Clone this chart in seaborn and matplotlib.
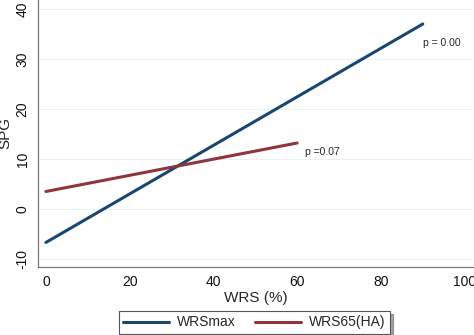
import matplotlib
matplotlib.use("Agg")
import matplotlib.pyplot as plt
import seaborn as sns
import pandas as pd

# Data
wrs_max_x = [0, 90]
wrs_max_y = [-6.7, 37.0]
wrs65_x = [0, 60]
wrs65_y = [3.5, 13.2]
series_names = ["WRSmax", "WRS65(HA)"]
x_ticks = [0, 20, 40, 60, 80, 100]
y_ticks = [-10, 0, 10, 20, 30, 40]
p_labels = ["p = 0.00", "p =0.07"]

df = pd.concat([
    pd.DataFrame({"WRS": wrs_max_x, "SPG": wrs_max_y, "series": series_names[0]}),
    pd.DataFrame({"WRS": wrs65_x, "SPG": wrs65_y, "series": series_names[1]}),
])

sns.set_style("white")
plt.rcParams['font.family'] = ['Liberation Sans', 'DejaVu Sans']

fig = plt.figure(figsize=(4.74, 3.35), dpi=100)
ax = fig.add_axes([0.080, 0.203, 0.918, 0.797])

palette = {series_names[0]: "#1a476f", series_names[1]: "#90353b"}
sns.lineplot(data=df, x="WRS", y="SPG", hue="series", palette=palette,
             linewidth=2.2, ax=ax, legend=True)

ax.set_xlim(-1.9, 102)
ax.set_ylim(-11.6, 41.8)
ax.set_xticks(x_ticks)
ax.set_yticks(y_ticks)
ax.set_yticklabels([str(v) for v in y_ticks], rotation=90, va="center")
ax.grid(axis="y", color="#eaf0f2", linewidth=0.8)
ax.set_axisbelow(True)

for s in ["top", "right"]:
    ax.spines[s].set_visible(False)
for s in ["left", "bottom"]:
    ax.spines[s].set_color("#777777")
    ax.spines[s].set_linewidth(0.9)
ax.tick_params(axis="both", direction="out", length=4, width=0.8, color="#777777",
               labelsize=10, labelcolor="#111111", pad=2)

ax.set_xlabel("WRS (%)", fontsize=11, labelpad=1)
ax.set_ylabel("SPG", fontsize=11, labelpad=2)

ax.text(wrs_max_x[1], 33.2, p_labels[0], fontsize=7.5, ha="left", va="center")
ax.text(61.8, 11.4, p_labels[1], fontsize=7.5, ha="left", va="center")

handles, labels = ax.get_legend_handles_labels()
leg = ax.legend(handles, labels, loc="upper center", bbox_to_anchor=(0.497, -0.14),
                ncol=2, frameon=True, fancybox=False, shadow=True, fontsize=10,
                handlelength=3.3, handletextpad=0.6, columnspacing=1.4,
                borderpad=0.3, edgecolor="#555555")
leg.get_frame().set_linewidth(0.8)

fig.savefig("out.png", dpi=100)
